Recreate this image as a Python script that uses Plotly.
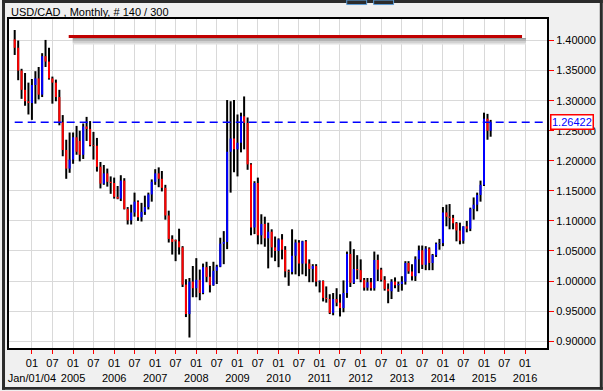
import plotly.graph_objects as go
import pandas as pd

# ---------------- data (USD/CAD monthly OHLC, Aug 2003 .. Mar 2015) ----------------
months = pd.date_range("2003-08-01", periods=140, freq="MS")

opens = [
    1.4020, 1.3880, 1.3500, 1.3180, 1.2990,
    1.2960, 1.3260, 1.3370, 1.3100, 1.3740, 1.3650, 1.3370, 1.3300, 1.3060, 1.2640, 1.2180, 1.1870,
    1.2020, 1.2390, 1.2330, 1.2100, 1.2570, 1.2530, 1.2260, 1.2250, 1.1900, 1.1620, 1.1790, 1.1650,
    1.1630, 1.1400, 1.1370, 1.1670, 1.1200, 1.1010, 1.1140, 1.1320, 1.1060, 1.1150, 1.1230, 1.1440,
    1.1650, 1.1790, 1.1700, 1.1550, 1.1090, 1.0700, 1.0680, 1.0660, 1.0560, 0.9940, 0.9450, 0.9990,
    0.9880, 1.0020, 0.9800, 1.0230, 1.0070, 0.9930, 1.0170, 1.0240, 1.0620, 1.0650, 1.2150, 1.2370,
    1.2190, 1.2300, 1.2740, 1.2630, 1.1940, 1.0890, 1.1630, 1.0760, 1.0950, 1.0710, 1.0820, 1.0560,
    1.0500, 1.0690, 1.0520, 1.0160, 1.0150, 1.0420, 1.0640, 1.0290, 1.0660, 1.0290, 1.0200, 1.0250,
    0.9990, 1.0000, 0.9720, 0.9700, 0.9470, 0.9700, 0.9640, 0.9550, 0.9800, 1.0450, 0.9970, 1.0200,
    1.0180, 1.0020, 0.9890, 0.9980, 0.9880, 1.0350, 1.0190, 1.0020, 0.9870, 0.9830, 0.9990, 0.9930,
    0.9950, 0.9990, 1.0300, 1.0160, 1.0080, 1.0360, 1.0510, 1.0270, 1.0540, 1.0300, 1.0430, 1.0620,
    1.0630, 1.1140, 1.1070, 1.1050, 1.0960, 1.0840, 1.0670, 1.0910, 1.0870, 1.1200, 1.1270, 1.1430,
    1.1600, 1.2700, 1.2500,
]
highs = [
    1.4175, 1.4000, 1.3530, 1.3460, 1.3300,
    1.3360, 1.3490, 1.3560, 1.3790, 1.4010, 1.3880, 1.3400, 1.3350, 1.3180, 1.2760, 1.2350, 1.2470,
    1.2470, 1.2580, 1.2500, 1.2620, 1.2730, 1.2660, 1.2480, 1.2380, 1.1980, 1.1930, 1.1870, 1.1740,
    1.1720, 1.1580, 1.1760, 1.1710, 1.1230, 1.1270, 1.1470, 1.1340, 1.1300, 1.1420, 1.1470, 1.1690,
    1.1860, 1.1890, 1.1830, 1.1600, 1.1170, 1.0760, 1.0690, 1.0870, 1.0580, 1.0030, 1.0050, 1.0250,
    1.0380, 1.0190, 1.0290, 1.0320, 1.0250, 1.0320, 1.0270, 1.0720, 1.0830, 1.3010, 1.2990, 1.3010,
    1.2770, 1.2800, 1.3070, 1.2720, 1.1960, 1.1660, 1.1720, 1.1110, 1.1070, 1.0970, 1.0860, 1.0740,
    1.0710, 1.0780, 1.0580, 1.0190, 1.0860, 1.0690, 1.0680, 1.0670, 1.0680, 1.0360, 1.0280, 1.0280,
    1.0010, 1.0010, 0.9910, 0.9780, 0.9800, 0.9880, 0.9780, 1.0010, 1.0490, 1.0660, 1.0530, 1.0430,
    1.0360, 1.0050, 1.0050, 1.0050, 1.0490, 1.0440, 1.0220, 1.0080, 0.9960, 1.0030, 1.0060, 0.9990,
    1.0080, 1.0330, 1.0330, 1.0280, 1.0410, 1.0590, 1.0590, 1.0580, 1.0560, 1.0450, 1.0640, 1.0700,
    1.1230, 1.1270, 1.1280, 1.1100, 1.0980, 1.0970, 1.0910, 1.1000, 1.1220, 1.1390, 1.1470, 1.1670,
    1.2800, 1.2780, 1.2680,
]
lows = [
    1.3760, 1.3340, 1.3030, 1.2915, 1.2770,
    1.2680, 1.2950, 1.3020, 1.3060, 1.3560, 1.3350, 1.2950, 1.2990, 1.2590, 1.2075, 1.1700, 1.1800,
    1.1950, 1.2100, 1.1990, 1.2030, 1.2330, 1.2240, 1.2020, 1.1820, 1.1540, 1.1600, 1.1570, 1.1450,
    1.1370, 1.1360, 1.1330, 1.1190, 1.0940, 1.0940, 1.1070, 1.1000, 1.0990, 1.1100, 1.1190, 1.1320,
    1.1600, 1.1560, 1.1490, 1.1020, 1.0640, 1.0440, 1.0330, 1.0440, 0.9900, 0.9400, 0.9060, 0.9730,
    0.9730, 0.9680, 0.9780, 0.9980, 0.9810, 0.9920, 0.9950, 1.0230, 1.0280, 1.0530, 1.1470, 1.1810,
    1.1740, 1.2140, 1.2190, 1.1850, 1.0760, 1.0780, 1.0610, 1.0610, 1.0570, 1.0210, 1.0390, 1.0330,
    1.0230, 1.0360, 1.0060, 0.9920, 1.0110, 1.0110, 1.0080, 1.0110, 1.0080, 0.9980, 0.9980, 0.9910,
    0.9810, 0.9660, 0.9640, 0.9450, 0.9430, 0.9580, 0.9410, 0.9480, 0.9720, 0.9900, 0.9950, 1.0030,
    0.9980, 0.9840, 0.9840, 0.9840, 0.9840, 1.0000, 0.9990, 0.9840, 0.9630, 0.9700, 0.9880, 0.9820,
    0.9840, 0.9940, 1.0120, 1.0010, 1.0000, 1.0130, 1.0200, 1.0180, 1.0180, 1.0180, 1.0400, 1.0520,
    1.0580, 1.0910, 1.0860, 1.0860, 1.0660, 1.0610, 1.0620, 1.0810, 1.0830, 1.1020, 1.1160, 1.1320,
    1.1580, 1.2350, 1.2400,
]
closes = [
    1.3880, 1.3500, 1.3180, 1.2990, 1.2960,
    1.3260, 1.3370, 1.3100, 1.3740, 1.3650, 1.3370, 1.3300, 1.3060, 1.2640, 1.2180, 1.1870, 1.2020,
    1.2390, 1.2150, 1.2100, 1.2570, 1.2530, 1.2260, 1.2250, 1.1900, 1.1620, 1.1790, 1.1650, 1.1630,
    1.1400, 1.1370, 1.1670, 1.1200, 1.1010, 1.1140, 1.1320, 1.1060, 1.1150, 1.1230, 1.1440, 1.1650,
    1.1790, 1.1700, 1.1550, 1.1090, 1.0700, 1.0650, 1.0660, 1.0560, 0.9940, 0.9450, 0.9990, 0.9880,
    1.0020, 0.9800, 1.0230, 1.0070, 0.9930, 1.0170, 1.0240, 1.0620, 1.0650, 1.2150, 1.2370, 1.2190,
    1.2300, 1.2740, 1.2630, 1.1940, 1.0890, 1.1630, 1.0760, 1.0950, 1.0710, 1.0820, 1.0560, 1.0500,
    1.0690, 1.0520, 1.0160, 1.0150, 1.0420, 1.0640, 1.0290, 1.0660, 1.0290, 1.0200, 1.0250, 0.9990,
    1.0000, 0.9720, 0.9700, 0.9470, 0.9700, 0.9640, 0.9550, 0.9800, 1.0450, 0.9970, 1.0200, 1.0180,
    1.0020, 0.9890, 0.9980, 0.9880, 1.0350, 1.0190, 1.0020, 0.9870, 0.9830, 0.9990, 0.9930, 0.9950,
    0.9990, 1.0300, 1.0160, 1.0080, 1.0360, 1.0510, 1.0270, 1.0540, 1.0300, 1.0430, 1.0620, 1.0630,
    1.1140, 1.1070, 1.1050, 1.0960, 1.0840, 1.0670, 1.0910, 1.0870, 1.1200, 1.1270, 1.1430, 1.1600,
    1.2700, 1.2500, 1.26422,
]

title_text = "USD/CAD , Monthly, # 140 / 300"
last_price = 1.26422
resistance_level = 1.4068
resistance_start = "2004-11-23"
resistance_end = "2015-12-05"

y_tick_values = [0.90, 0.95, 1.00, 1.05, 1.10, 1.15, 1.20, 1.25, 1.30, 1.35, 1.40]
y_tick_labels = ["%.5f" % v for v in y_tick_values]
x_tick_dates = pd.date_range("2004-01-01", "2016-01-01", freq="6MS")
x_tick_labels = []
for d in x_tick_dates:
    if d.month == 1:
        x_tick_labels.append("01<br>" + ("Jan/01/04" if d.year == 2004 else str(d.year)))
    else:
        x_tick_labels.append("07")

# ---------------- geometry ----------------
W, H = 603, 391
ML, MR, MT, MB = 7, 56, 19, 42
PW, PH = W - ML - MR, H - MT - MB

# x: Jan 2004 at pixel 30, Jan 2016 at pixel 525
t0 = pd.Timestamp("2004-01-01")
t1 = pd.Timestamp("2016-01-01")
per_px = (t1 - t0) / (525 - 30)
x_range = [t0 - (30 - ML) * per_px, t0 + (ML + PW - 30) * per_px]
# y: 1.40 at pixel 40.6, 603 px per unit
ppu = 603.0
y_top = 1.40 + (40.6 - MT) / ppu
y_bot = 1.40 - (MT + PH - 40.6) / ppu


def px_x(X):
    return (X - ML) / PW


def px_y(Y):
    return (MT + PH - Y) / PH


# ---------------- traces ----------------
wx, wy = [], []
ux, uy, dx, dy = [], [], [], []
for d, o, h, l, c in zip(months, opens, highs, lows, closes):
    wx += [d, d, None]
    wy += [l, h, None]
    if c >= o:
        ux += [d, d, None]
        uy += [o, c, None]
    else:
        dx += [d, d, None]
        dy += [o, c, None]

fig = go.Figure()
fig.add_trace(go.Scatter(x=wx, y=wy, mode="lines", line=dict(color="black", width=2),
                         hoverinfo="skip", connectgaps=False))
fig.add_trace(go.Scatter(x=ux, y=uy, mode="lines", line=dict(color="#0000ff", width=2),
                         hoverinfo="skip", connectgaps=False))
fig.add_trace(go.Scatter(x=dx, y=dy, mode="lines", line=dict(color="#ff0000", width=2),
                         hoverinfo="skip", connectgaps=False))

shapes = []
# shadow under the resistance line
shadow_cols = ["#9a9a9a", "#b4b4b4", "#cdcdcd", "#e2e2e2"]
t_rs = pd.Timestamp(resistance_start) + 4 * per_px
t_re = pd.Timestamp(resistance_end) + 4 * per_px
for k, col in enumerate(shadow_cols):
    yy = resistance_level - (2.5 + 1.6 * k) / ppu
    shapes.append(dict(type="line", xref="x", yref="y", x0=t_rs, x1=t_re, y0=yy, y1=yy,
                       line=dict(color=col, width=1.8), layer="above"))
shapes.append(dict(type="line", xref="x", yref="y", x0=resistance_start, x1=resistance_end,
                   y0=resistance_level, y1=resistance_level,
                   line=dict(color="#c00000", width=3), layer="above"))
# last price dashed line
shapes.append(dict(type="line", xref="x", yref="y", x0=months[0], x1=x_range[1],
                   y0=last_price, y1=last_price,
                   line=dict(color="#0000ff", width=1.5, dash="8px,5px"), layer="above"))
# dark window frame
frame = "#2b2b2b"
for (X0, Y0, X1, Y1) in [(0, 0, W, 3), (0, H - 3, W, H), (0, 0, 3, H), (W - 3, 0, W, H)]:
    shapes.append(dict(type="rect", xref="paper", yref="paper",
                       x0=px_x(X0), x1=px_x(X1), y0=px_y(Y1), y1=px_y(Y0),
                       fillcolor=frame, line=dict(width=0), layer="above"))
for (X0, X1) in [(346, 366), (373, 393)]:
    shapes.append(dict(type="rect", xref="paper", yref="paper",
                       x0=px_x(X0), x1=px_x(X1), y0=px_y(4.5), y1=px_y(0),
                       fillcolor=frame, line=dict(color="#5b9bd5", width=1), layer="above"))

annotations = [
    dict(text=title_text, xref="paper", yref="paper", x=px_x(7), y=px_y(11.5),
         xanchor="left", yanchor="middle", showarrow=False,
         font=dict(size=11, color="black")),
    dict(text="%.5f" % last_price, xref="paper", yref="y", x=px_x(550), y=last_price,
         xanchor="left", yanchor="middle", showarrow=False,
         font=dict(size=11, color="#0000ff"), bgcolor="white",
         bordercolor="#ff0000", borderwidth=1.5, borderpad=0.5),
]

fig.update_layout(
    width=W, height=H,
    margin=dict(l=ML, r=MR, t=MT, b=MB, pad=0),
    paper_bgcolor="#f0f0f0", plot_bgcolor="white",
    showlegend=False,
    font=dict(family="Liberation Sans, Arial, sans-serif", size=11, color="black"),
    shapes=shapes, annotations=annotations,
    xaxis=dict(type="date", range=x_range, tickvals=list(x_tick_dates), ticktext=x_tick_labels,
               ticks="outside", ticklen=4, tickwidth=1, tickcolor="#ff0000", tickangle=0,
               showgrid=True, gridcolor="#d9d9d9", gridwidth=1,
               showline=True, linecolor="black", linewidth=2, mirror=True, zeroline=False,
               tickfont=dict(size=11)),
    yaxis=dict(side="right", range=[y_bot, y_top], tickvals=y_tick_values, ticktext=y_tick_labels,
               ticks="outside", ticklen=5, tickwidth=1, tickcolor="#ff0000",
               showgrid=True, gridcolor="#d9d9d9", gridwidth=1,
               showline=True, linecolor="black", linewidth=2, mirror=True, zeroline=False,
               tickfont=dict(size=11)),
)

fig.write_html("out.html", config={"displayModeBar": False})
